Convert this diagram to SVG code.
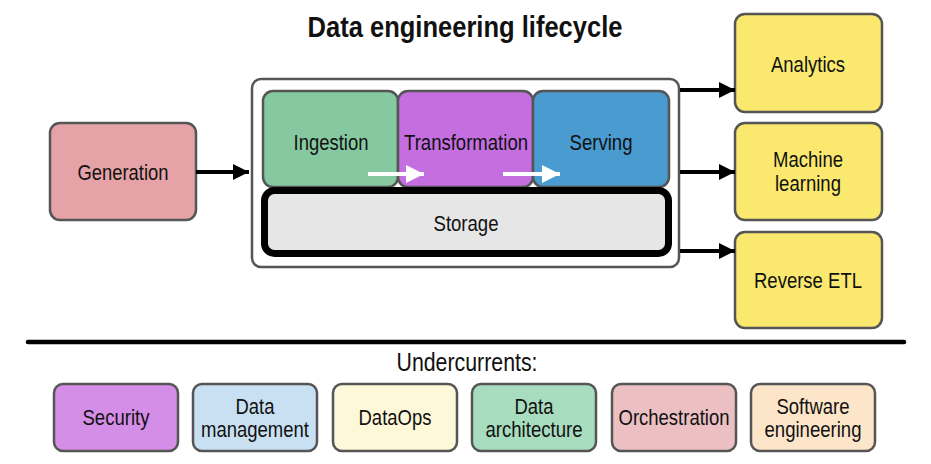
<svg xmlns="http://www.w3.org/2000/svg" width="931" height="464" viewBox="0 0 931 464">
<defs>
<style>
text{font-family:"Liberation Sans",Arial,sans-serif;fill:#111;text-anchor:middle}
.lbl{font-size:22px}
.box{stroke:#555;stroke-width:2.5}
.conn{stroke:#000;stroke-width:4;fill:none}
.wconn{stroke:#fff;stroke-width:4;fill:none}
</style>
<marker id="ah" viewBox="0 0 10 10" refX="10" refY="5" markerWidth="4" markerHeight="4.5" orient="auto" markerUnits="strokeWidth">
<path d="M0,0 L10,5 L0,10 Z" fill="#000"/>
</marker>
<marker id="wh" viewBox="0 0 10 10" refX="10" refY="5" markerWidth="4.5" markerHeight="4.5" orient="auto" markerUnits="strokeWidth">
<path d="M0,0 L10,5 L0,10 Z" fill="#fff"/>
</marker>
</defs>
<rect width="931" height="464" fill="#fff"/>
<text x="465" y="37" style="font-size:30px;font-weight:bold" textLength="315" lengthAdjust="spacingAndGlyphs">Data engineering lifecycle</text>

<g id="lifecycle">
<rect x="252" y="79" width="427" height="188" rx="9" fill="#fff" stroke="#555" stroke-width="2.5"/>
</g>
<g id="ingestion">
<rect class="box" x="263" y="91" width="135" height="96" rx="10" fill="#86c9a0"/>
<text class="lbl" x="331" y="150" textLength="75" lengthAdjust="spacingAndGlyphs">Ingestion</text>
</g>
<g id="transformation">
<rect class="box" x="398" y="91" width="135" height="96" rx="10" fill="#c56ee0"/>
<text class="lbl" x="466" y="150" textLength="124" lengthAdjust="spacingAndGlyphs">Transformation</text>
</g>
<g id="serving">
<rect class="box" x="533" y="91" width="136" height="96" rx="10" fill="#4a9bd0"/>
<text class="lbl" x="601" y="150" textLength="63" lengthAdjust="spacingAndGlyphs">Serving</text>
</g>
<g id="storage">
<rect x="264.5" y="190.5" width="404" height="63" rx="10" fill="#e6e6e6" stroke="#000" stroke-width="7"/>
<text class="lbl" x="466" y="231" textLength="65" lengthAdjust="spacingAndGlyphs">Storage</text>
</g>
<g id="generation">
<rect class="box" x="50" y="123" width="146" height="97" rx="10" fill="#e5a3a7"/>
<text class="lbl" x="123" y="180" textLength="91" lengthAdjust="spacingAndGlyphs">Generation</text>
</g>
<g id="analytics">
<rect class="box" x="735" y="14" width="147" height="98" rx="10" fill="#fae96e"/>
<text class="lbl" x="808" y="72" textLength="74" lengthAdjust="spacingAndGlyphs">Analytics</text>
</g>
<g id="ml">
<rect class="box" x="735" y="123" width="147" height="97" rx="10" fill="#fae96e"/>
<text class="lbl" x="808" y="167" textLength="70" lengthAdjust="spacingAndGlyphs">Machine</text>
<text class="lbl" x="808" y="191" textLength="66" lengthAdjust="spacingAndGlyphs">learning</text>
</g>
<g id="retl">
<rect class="box" x="735" y="232" width="147" height="96" rx="10" fill="#fae96e"/>
<text class="lbl" x="808" y="288" textLength="108" lengthAdjust="spacingAndGlyphs">Reverse ETL</text>
</g>

<g id="connectors">
<line class="conn" x1="196" y1="172" x2="249" y2="172" marker-end="url(#ah)"/>
<line class="conn" x1="680" y1="90" x2="735" y2="90" marker-end="url(#ah)"/>
<line class="conn" x1="680" y1="172" x2="735" y2="172" marker-end="url(#ah)"/>
<line class="conn" x1="680" y1="251" x2="735" y2="251" marker-end="url(#ah)"/>
<line class="wconn" x1="368" y1="174" x2="424" y2="174" marker-end="url(#wh)"/>
<line class="wconn" x1="503" y1="174" x2="560" y2="174" marker-end="url(#wh)"/>
</g>

<line x1="28" y1="342" x2="904" y2="342" stroke="#000" stroke-width="4.5" stroke-linecap="round"/>
<text x="467" y="371" style="font-size:25px" textLength="141" lengthAdjust="spacingAndGlyphs">Undercurrents:</text>

<g id="security">
<rect class="box" x="54" y="384" width="124" height="67" rx="9" fill="#d58ee8"/>
<text class="lbl" x="116" y="425" textLength="67" lengthAdjust="spacingAndGlyphs">Security</text>
</g>
<g id="datamanagement">
<rect class="box" x="193" y="384" width="124" height="67" rx="9" fill="#c9e0f2"/>
<text class="lbl" x="255" y="414" textLength="39" lengthAdjust="spacingAndGlyphs">Data</text>
<text class="lbl" x="255" y="437" textLength="108" lengthAdjust="spacingAndGlyphs">management</text>
</g>
<g id="dataops">
<rect class="box" x="333" y="384" width="124" height="67" rx="9" fill="#fdf8d8"/>
<text class="lbl" x="395" y="425" textLength="73" lengthAdjust="spacingAndGlyphs">DataOps</text>
</g>
<g id="dataarchitecture">
<rect class="box" x="472" y="384" width="124" height="67" rx="9" fill="#a8dcbf"/>
<text class="lbl" x="534" y="414" textLength="39" lengthAdjust="spacingAndGlyphs">Data</text>
<text class="lbl" x="534" y="437" textLength="97" lengthAdjust="spacingAndGlyphs">architecture</text>
</g>
<g id="orchestration">
<rect class="box" x="612" y="384" width="124" height="67" rx="9" fill="#ecc0c3"/>
<text class="lbl" x="674" y="425" textLength="111" lengthAdjust="spacingAndGlyphs">Orchestration</text>
</g>
<g id="softwareengineering">
<rect class="box" x="751" y="384" width="124" height="67" rx="9" fill="#fde5c9"/>
<text class="lbl" x="813" y="414" textLength="73" lengthAdjust="spacingAndGlyphs">Software</text>
<text class="lbl" x="813" y="437" textLength="97" lengthAdjust="spacingAndGlyphs">engineering</text>
</g>
</svg>
